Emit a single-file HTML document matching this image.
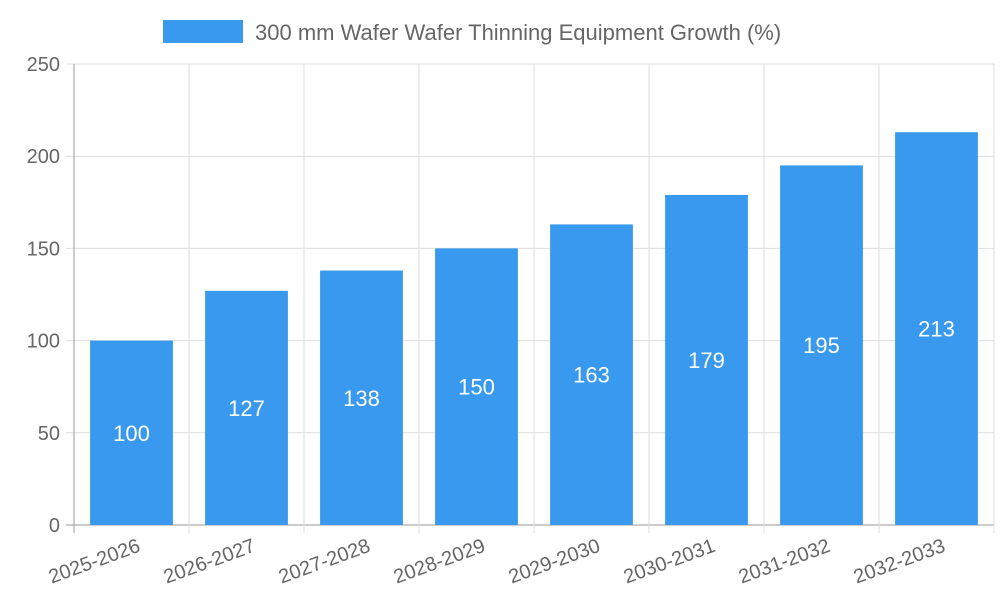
<!DOCTYPE html>
<html><head><meta charset="utf-8"><style>
body{margin:0;background:#fff;}
svg{display:block;font-family:"Liberation Sans",sans-serif;}
</style></head><body>
<svg id="chart" width="1000" height="600">
<rect x="163" y="20" width="80" height="23" fill="#3899ee"/>
<text x="255" y="40" font-size="22" fill="#666">300 mm Wafer Wafer Thinning Equipment Growth (%)</text>
<g id="grid"></g><g id="bars"></g><g id="labels"></g>
</svg>
<script>
const categories=["2025-2026","2026-2027","2027-2028","2028-2029","2029-2030","2030-2031","2031-2032","2032-2033"];
const values=[100,127,138,150,163,179,195,213];
const yTicks=[0,50,100,150,200,250];
const L=74,R=994,T=64,B=525,yMax=250;
const ns="http://www.w3.org/2000/svg";
const svg=document.getElementById('chart');
const grid=document.getElementById('grid'),bars=document.getElementById('bars'),labels=document.getElementById('labels');
const y=v=>B-(v/yMax)*(B-T);
const step=(R-L)/categories.length;
const x=i=>L+step*i;
function mk(tag,attrs,parent){const e=document.createElementNS(ns,tag);for(const k in attrs)e.setAttribute(k,attrs[k]);parent.appendChild(e);return e;}
yTicks.forEach(t=>{
 const ln=mk('line',{x1:L-8,x2:R,y1:y(t),y2:y(t),stroke:t===0?'#999':'#ddd','stroke-width':1},grid);
 
 
 const tx=mk('text',{x:L-14,y:y(t)+7,'text-anchor':'end','font-size':20,fill:'#666'},grid);
 tx.textContent=t;
 
 
});
for(let i=0;i<=categories.length;i++){
 const ln=mk('line',{x1:x(i),x2:x(i),y1:T,y2:B+8,stroke:i===0?'#999':'#ddd','stroke-width':1},grid);
 
 
}
const bw=step*0.72;
categories.forEach((c,i)=>{
 const cx=x(i)+step/2;
 const r=mk('rect',{x:cx-bw/2,y:y(values[i]),width:bw,height:B-y(values[i]),fill:'#3899ee'},bars);
 
 
 const v=mk('text',{x:cx,y:(y(values[i])+B)/2+8,'text-anchor':'middle','font-size':22,fill:'#fff'},labels);
 v.textContent=values[i];
 
 
 const t=mk('text',{x:cx+10,y:B+26,'text-anchor':'end','font-size':20,fill:'#666',transform:`rotate(-20 ${cx+10} ${B+26})`},labels);
 t.textContent=c;
 
 
});
</script>
</body></html>
